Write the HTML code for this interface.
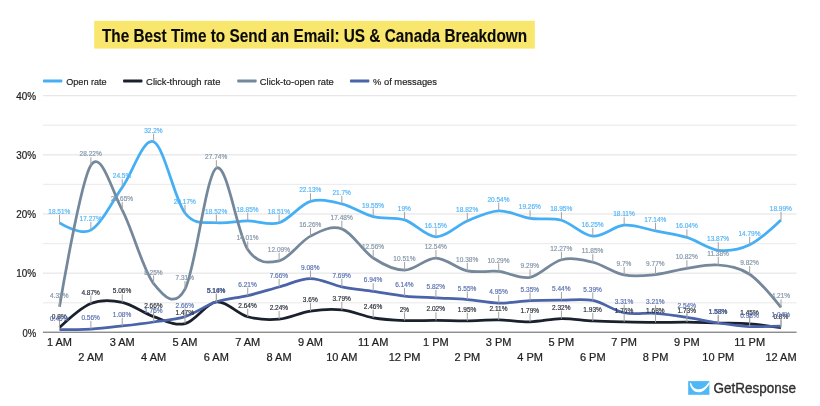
<!DOCTYPE html>
<html><head><meta charset="utf-8"><title>The Best Time to Send an Email: US &amp; Canada Breakdown</title>
<style>html,body{margin:0;padding:0;background:#fff;}body{width:820px;height:406px;overflow:hidden;}svg{display:block;will-change:transform;}text{font-family:"Liberation Sans",sans-serif;}</style></head><body>
<svg width="820" height="406" viewBox="0 0 820 406">
<rect x="0" y="0" width="820" height="406" fill="#ffffff"/>
<rect x="94.2" y="20.8" width="440.6" height="27.8" fill="#f9e76d"/>
<text x="101.9" y="41.7" font-size="17.7" font-weight="bold" fill="#0a0a0a" stroke="#0a0a0a" stroke-width="0.12" textLength="425.2" lengthAdjust="spacingAndGlyphs">The Best Time to Send an Email: US &amp; Canada Breakdown</text>
<rect x="43.0" y="79.6" width="19.3" height="2.8" rx="0.6" fill="#45aff6"/>
<text x="66.2" y="84.7" font-size="9.7" fill="#1e1e1e" stroke="#1e1e1e" stroke-width="0.18" textLength="40.5" lengthAdjust="spacingAndGlyphs">Open rate</text>
<rect x="123.1" y="79.6" width="19.3" height="2.8" rx="0.6" fill="#1a212c"/>
<text x="146.1" y="84.7" font-size="9.7" fill="#1e1e1e" stroke="#1e1e1e" stroke-width="0.18" textLength="74.3" lengthAdjust="spacingAndGlyphs">Click-through rate</text>
<rect x="237.3" y="79.6" width="19.3" height="2.8" rx="0.6" fill="#75889b"/>
<text x="259.8" y="84.7" font-size="9.7" fill="#1e1e1e" stroke="#1e1e1e" stroke-width="0.18" textLength="74.0" lengthAdjust="spacingAndGlyphs">Click-to-open rate</text>
<rect x="350.0" y="79.6" width="19.3" height="2.8" rx="0.6" fill="#4a63a9"/>
<text x="373.0" y="84.7" font-size="9.7" fill="#1e1e1e" stroke="#1e1e1e" stroke-width="0.18" textLength="64.0" lengthAdjust="spacingAndGlyphs">% of messages</text>
<rect x="43.0" y="302.11" width="753.6" height="1.3" fill="#ededed"/>
<rect x="43.0" y="272.52" width="753.6" height="1.3" fill="#e8e8e8"/>
<rect x="43.0" y="242.93" width="753.6" height="1.3" fill="#ededed"/>
<rect x="43.0" y="213.34" width="753.6" height="1.3" fill="#e8e8e8"/>
<rect x="43.0" y="183.75" width="753.6" height="1.3" fill="#ededed"/>
<rect x="43.0" y="154.16" width="753.6" height="1.3" fill="#e8e8e8"/>
<rect x="43.0" y="124.57" width="753.6" height="1.3" fill="#ededed"/>
<rect x="43.0" y="94.98" width="753.6" height="1.3" fill="#e8e8e8"/>
<text x="22.4" y="336.5" font-size="10.8" fill="#1e1e1e" stroke="#1e1e1e" stroke-width="0.22" textLength="13.7" lengthAdjust="spacingAndGlyphs">0%</text>
<text x="16.3" y="277.3" font-size="10.8" fill="#1e1e1e" stroke="#1e1e1e" stroke-width="0.22" textLength="19.8" lengthAdjust="spacingAndGlyphs">10%</text>
<text x="16.3" y="218.1" font-size="10.8" fill="#1e1e1e" stroke="#1e1e1e" stroke-width="0.22" textLength="19.8" lengthAdjust="spacingAndGlyphs">20%</text>
<text x="16.3" y="158.9" font-size="10.8" fill="#1e1e1e" stroke="#1e1e1e" stroke-width="0.22" textLength="19.8" lengthAdjust="spacingAndGlyphs">30%</text>
<text x="16.3" y="99.7" font-size="10.8" fill="#1e1e1e" stroke="#1e1e1e" stroke-width="0.22" textLength="19.8" lengthAdjust="spacingAndGlyphs">40%</text>
<path d="M59.50,222.81C59.50,222.81 80.41,236.05 90.87,230.15C101.33,224.24 111.78,202.08 122.24,187.36C132.70,172.63 143.15,137.52 153.61,141.79C164.07,146.06 174.52,199.49 184.98,212.98C195.44,226.48 205.89,221.45 216.35,222.75C226.81,224.05 237.26,220.79 247.72,220.80C258.18,220.81 268.63,226.04 279.09,222.81C289.55,219.57 300.00,204.53 310.46,201.38C320.92,198.24 331.37,201.38 341.83,203.93C352.29,206.47 362.74,213.99 373.20,216.65C383.66,219.32 394.11,216.55 404.57,219.91C415.03,223.26 425.48,236.60 435.94,236.77C446.40,236.95 456.85,225.30 467.31,220.97C477.77,216.64 488.22,211.23 498.68,210.79C509.14,210.36 519.59,216.80 530.05,218.37C540.51,219.94 550.96,217.24 561.42,220.20C571.88,223.17 582.33,235.35 592.79,236.18C603.25,237.01 613.70,226.05 624.16,225.18C634.62,224.30 645.07,228.87 655.53,230.92C665.99,232.96 676.44,234.20 686.90,237.43C697.36,240.65 707.81,249.03 718.27,250.27C728.73,251.50 739.18,249.87 749.64,244.82C760.10,239.77 781.01,219.97 781.01,219.97" fill="none" stroke="#45aff6" stroke-width="2.75" stroke-linecap="butt" stroke-linejoin="round"/>
<path d="M59.50,327.62C59.50,327.62 80.41,307.73 90.87,303.53C101.33,299.33 111.78,300.23 122.24,302.40C132.70,304.58 143.15,313.07 153.61,316.61C164.07,320.15 174.52,326.10 184.98,323.65C195.44,321.20 205.89,303.09 216.35,301.93C226.81,300.78 237.26,313.87 247.72,316.73C258.18,319.59 268.63,320.04 279.09,319.09C289.55,318.15 300.00,312.57 310.46,311.05C320.92,309.52 331.37,308.80 341.83,309.92C352.29,311.05 362.74,316.03 373.20,317.79C383.66,319.56 394.11,320.08 404.57,320.51C415.03,320.95 425.48,320.35 435.94,320.40C446.40,320.44 456.85,320.90 467.31,320.81C477.77,320.72 488.22,319.71 498.68,319.86C509.14,320.02 519.59,321.96 530.05,321.76C540.51,321.55 550.96,318.76 561.42,318.62C571.88,318.48 582.33,320.38 592.79,320.93C603.25,321.48 613.70,321.69 624.16,321.93C634.62,322.18 645.07,322.38 655.53,322.41C665.99,322.44 676.44,322.01 686.90,322.11C697.36,322.21 707.81,322.72 718.27,323.00C728.73,323.28 739.18,323.00 749.64,323.77C760.10,324.54 781.01,327.62 781.01,327.62" fill="none" stroke="#1a212c" stroke-width="2.75" stroke-linecap="butt" stroke-linejoin="round"/>
<path d="M59.50,306.78C59.50,306.78 80.41,181.45 90.87,165.34C101.33,149.24 111.78,190.45 122.24,210.14C132.70,229.84 143.15,270.37 153.61,283.53C164.07,296.68 174.52,308.31 184.98,289.09C195.44,269.87 205.89,174.79 216.35,168.18C226.81,161.58 237.26,234.00 247.72,249.44C258.18,264.87 268.63,263.02 279.09,260.80C289.55,258.58 300.00,241.44 310.46,236.12C320.92,230.81 331.37,225.25 341.83,228.90C352.29,232.55 362.74,251.15 373.20,258.02C383.66,264.89 394.11,270.13 404.57,270.15C415.03,270.17 425.48,258.01 435.94,258.14C446.40,258.27 456.85,268.70 467.31,270.92C477.77,273.14 488.22,270.38 498.68,271.45C509.14,272.53 519.59,279.32 530.05,277.37C540.51,275.42 550.96,262.26 561.42,259.74C571.88,257.21 582.33,259.69 592.79,262.22C603.25,264.76 613.70,272.89 624.16,274.95C634.62,277.00 645.07,275.64 655.53,274.53C665.99,273.43 676.44,269.91 686.90,268.32C697.36,266.73 707.81,264.02 718.27,265.00C728.73,265.99 739.18,267.16 749.64,274.24C760.10,281.31 781.01,307.44 781.01,307.44" fill="none" stroke="#75889b" stroke-width="2.75" stroke-linecap="butt" stroke-linejoin="round"/>
<path d="M59.50,329.69C59.50,329.69 80.41,329.66 90.87,329.04C101.33,328.41 111.78,327.13 122.24,325.96C132.70,324.78 143.15,323.55 153.61,321.99C164.07,320.44 174.52,319.97 184.98,316.61C195.44,313.24 205.89,305.31 216.35,301.81C226.81,298.31 237.26,298.07 247.72,295.60C258.18,293.13 268.63,289.85 279.09,287.02C289.55,284.19 300.00,278.64 310.46,278.61C320.92,278.58 331.37,284.73 341.83,286.84C352.29,288.95 362.74,289.75 373.20,291.28C383.66,292.81 394.11,294.91 404.57,296.01C415.03,297.12 425.48,297.33 435.94,297.91C446.40,298.49 456.85,298.65 467.31,299.51C477.77,300.36 488.22,302.86 498.68,303.06C509.14,303.25 519.59,301.17 530.05,300.69C540.51,300.21 550.96,300.20 561.42,300.16C571.88,300.12 582.33,298.35 592.79,300.45C603.25,302.55 613.70,310.61 624.16,312.76C634.62,314.91 645.07,312.59 655.53,313.35C665.99,314.11 676.44,315.71 686.90,317.32C697.36,318.93 707.81,321.46 718.27,323.00C728.73,324.54 739.18,326.02 749.64,326.55C760.10,327.08 781.01,326.20 781.01,326.20" fill="none" stroke="#4a63a9" stroke-width="2.75" stroke-linecap="butt" stroke-linejoin="round"/>
<rect x="59.00" y="214.71" width="1" height="8.1" fill="#a2a2a2"/>
<text transform="translate(59.30,213.86) scale(0.947,1)" font-size="6.9" text-anchor="middle" fill="#55b6f7" stroke="#55b6f7" stroke-width="0.18">18.51%</text>
<rect x="90.37" y="222.05" width="1" height="8.1" fill="#a2a2a2"/>
<text transform="translate(90.67,221.20) scale(0.947,1)" font-size="6.9" text-anchor="middle" fill="#55b6f7" stroke="#55b6f7" stroke-width="0.18">17.27%</text>
<rect x="121.74" y="179.26" width="1" height="8.1" fill="#a2a2a2"/>
<text transform="translate(122.04,178.41) scale(0.947,1)" font-size="6.9" text-anchor="middle" fill="#55b6f7" stroke="#55b6f7" stroke-width="0.18">24.5%</text>
<rect x="153.11" y="133.69" width="1" height="8.1" fill="#a2a2a2"/>
<text transform="translate(153.41,132.84) scale(0.947,1)" font-size="6.9" text-anchor="middle" fill="#55b6f7" stroke="#55b6f7" stroke-width="0.18">32.2%</text>
<rect x="184.48" y="204.88" width="1" height="8.1" fill="#a2a2a2"/>
<text transform="translate(184.78,204.03) scale(0.947,1)" font-size="6.9" text-anchor="middle" fill="#55b6f7" stroke="#55b6f7" stroke-width="0.18">20.17%</text>
<rect x="215.85" y="214.65" width="1" height="8.1" fill="#a2a2a2"/>
<text transform="translate(216.15,213.80) scale(0.947,1)" font-size="6.9" text-anchor="middle" fill="#55b6f7" stroke="#55b6f7" stroke-width="0.18">18.52%</text>
<rect x="247.22" y="212.70" width="1" height="8.1" fill="#a2a2a2"/>
<text transform="translate(247.52,211.85) scale(0.947,1)" font-size="6.9" text-anchor="middle" fill="#55b6f7" stroke="#55b6f7" stroke-width="0.18">18.85%</text>
<rect x="278.59" y="214.71" width="1" height="8.1" fill="#a2a2a2"/>
<text transform="translate(278.89,213.86) scale(0.947,1)" font-size="6.9" text-anchor="middle" fill="#55b6f7" stroke="#55b6f7" stroke-width="0.18">18.51%</text>
<rect x="309.96" y="193.28" width="1" height="8.1" fill="#a2a2a2"/>
<text transform="translate(310.26,192.43) scale(0.947,1)" font-size="6.9" text-anchor="middle" fill="#55b6f7" stroke="#55b6f7" stroke-width="0.18">22.13%</text>
<rect x="341.33" y="195.83" width="1" height="8.1" fill="#a2a2a2"/>
<text transform="translate(341.63,194.98) scale(0.947,1)" font-size="6.9" text-anchor="middle" fill="#55b6f7" stroke="#55b6f7" stroke-width="0.18">21.7%</text>
<rect x="372.70" y="208.55" width="1" height="8.1" fill="#a2a2a2"/>
<text transform="translate(373.00,207.70) scale(0.947,1)" font-size="6.9" text-anchor="middle" fill="#55b6f7" stroke="#55b6f7" stroke-width="0.18">19.55%</text>
<rect x="404.07" y="211.81" width="1" height="8.1" fill="#a2a2a2"/>
<text transform="translate(404.37,210.96) scale(0.947,1)" font-size="6.9" text-anchor="middle" fill="#55b6f7" stroke="#55b6f7" stroke-width="0.18">19%</text>
<rect x="435.44" y="228.67" width="1" height="8.1" fill="#a2a2a2"/>
<text transform="translate(435.74,227.82) scale(0.947,1)" font-size="6.9" text-anchor="middle" fill="#55b6f7" stroke="#55b6f7" stroke-width="0.18">16.15%</text>
<rect x="466.81" y="212.87" width="1" height="8.1" fill="#a2a2a2"/>
<text transform="translate(467.11,212.02) scale(0.947,1)" font-size="6.9" text-anchor="middle" fill="#55b6f7" stroke="#55b6f7" stroke-width="0.18">18.82%</text>
<rect x="498.18" y="202.69" width="1" height="8.1" fill="#a2a2a2"/>
<text transform="translate(498.48,201.84) scale(0.947,1)" font-size="6.9" text-anchor="middle" fill="#55b6f7" stroke="#55b6f7" stroke-width="0.18">20.54%</text>
<rect x="529.55" y="210.27" width="1" height="8.1" fill="#a2a2a2"/>
<text transform="translate(529.85,209.42) scale(0.947,1)" font-size="6.9" text-anchor="middle" fill="#55b6f7" stroke="#55b6f7" stroke-width="0.18">19.26%</text>
<rect x="560.92" y="212.10" width="1" height="8.1" fill="#a2a2a2"/>
<text transform="translate(561.22,211.25) scale(0.947,1)" font-size="6.9" text-anchor="middle" fill="#55b6f7" stroke="#55b6f7" stroke-width="0.18">18.95%</text>
<rect x="592.29" y="228.08" width="1" height="8.1" fill="#a2a2a2"/>
<text transform="translate(592.59,227.23) scale(0.947,1)" font-size="6.9" text-anchor="middle" fill="#55b6f7" stroke="#55b6f7" stroke-width="0.18">16.25%</text>
<rect x="623.66" y="217.08" width="1" height="8.1" fill="#a2a2a2"/>
<text transform="translate(623.96,216.23) scale(0.947,1)" font-size="6.9" text-anchor="middle" fill="#55b6f7" stroke="#55b6f7" stroke-width="0.18">18.11%</text>
<rect x="655.03" y="222.82" width="1" height="8.1" fill="#a2a2a2"/>
<text transform="translate(655.33,221.97) scale(0.947,1)" font-size="6.9" text-anchor="middle" fill="#55b6f7" stroke="#55b6f7" stroke-width="0.18">17.14%</text>
<rect x="686.40" y="229.33" width="1" height="8.1" fill="#a2a2a2"/>
<text transform="translate(686.70,228.48) scale(0.947,1)" font-size="6.9" text-anchor="middle" fill="#55b6f7" stroke="#55b6f7" stroke-width="0.18">16.04%</text>
<rect x="717.77" y="242.17" width="1" height="8.1" fill="#a2a2a2"/>
<text transform="translate(718.07,241.32) scale(0.947,1)" font-size="6.9" text-anchor="middle" fill="#55b6f7" stroke="#55b6f7" stroke-width="0.18">13.87%</text>
<rect x="749.14" y="236.72" width="1" height="8.1" fill="#a2a2a2"/>
<text transform="translate(749.44,235.87) scale(0.947,1)" font-size="6.9" text-anchor="middle" fill="#55b6f7" stroke="#55b6f7" stroke-width="0.18">14.79%</text>
<rect x="780.51" y="211.87" width="1" height="8.1" fill="#a2a2a2"/>
<text transform="translate(780.81,211.02) scale(0.947,1)" font-size="6.9" text-anchor="middle" fill="#55b6f7" stroke="#55b6f7" stroke-width="0.18">18.99%</text>
<rect x="59.00" y="319.52" width="1" height="8.1" fill="#a2a2a2"/>
<text transform="translate(59.30,318.67) scale(0.947,1)" font-size="6.9" text-anchor="middle" fill="#2a2f38" stroke="#2a2f38" stroke-width="0.18">0.8%</text>
<rect x="90.37" y="295.43" width="1" height="8.1" fill="#a2a2a2"/>
<text transform="translate(90.67,294.58) scale(0.947,1)" font-size="6.9" text-anchor="middle" fill="#2a2f38" stroke="#2a2f38" stroke-width="0.18">4.87%</text>
<rect x="121.74" y="294.30" width="1" height="8.1" fill="#a2a2a2"/>
<text transform="translate(122.04,293.45) scale(0.947,1)" font-size="6.9" text-anchor="middle" fill="#2a2f38" stroke="#2a2f38" stroke-width="0.18">5.06%</text>
<rect x="153.11" y="308.51" width="1" height="8.1" fill="#a2a2a2"/>
<text transform="translate(153.41,307.66) scale(0.947,1)" font-size="6.9" text-anchor="middle" fill="#2a2f38" stroke="#2a2f38" stroke-width="0.18">2.66%</text>
<rect x="184.48" y="315.55" width="1" height="8.1" fill="#a2a2a2"/>
<text transform="translate(184.78,314.70) scale(0.947,1)" font-size="6.9" text-anchor="middle" fill="#2a2f38" stroke="#2a2f38" stroke-width="0.18">1.47%</text>
<rect x="215.85" y="293.83" width="1" height="8.1" fill="#a2a2a2"/>
<text transform="translate(216.15,292.98) scale(0.947,1)" font-size="6.9" text-anchor="middle" fill="#2a2f38" stroke="#2a2f38" stroke-width="0.18">5.14%</text>
<rect x="247.22" y="308.63" width="1" height="8.1" fill="#a2a2a2"/>
<text transform="translate(247.52,307.78) scale(0.947,1)" font-size="6.9" text-anchor="middle" fill="#2a2f38" stroke="#2a2f38" stroke-width="0.18">2.64%</text>
<rect x="278.59" y="310.99" width="1" height="8.1" fill="#a2a2a2"/>
<text transform="translate(278.89,310.14) scale(0.947,1)" font-size="6.9" text-anchor="middle" fill="#2a2f38" stroke="#2a2f38" stroke-width="0.18">2.24%</text>
<rect x="309.96" y="302.95" width="1" height="8.1" fill="#a2a2a2"/>
<text transform="translate(310.26,302.10) scale(0.947,1)" font-size="6.9" text-anchor="middle" fill="#2a2f38" stroke="#2a2f38" stroke-width="0.18">3.6%</text>
<rect x="341.33" y="301.82" width="1" height="8.1" fill="#a2a2a2"/>
<text transform="translate(341.63,300.97) scale(0.947,1)" font-size="6.9" text-anchor="middle" fill="#2a2f38" stroke="#2a2f38" stroke-width="0.18">3.79%</text>
<rect x="372.70" y="309.69" width="1" height="8.1" fill="#a2a2a2"/>
<text transform="translate(373.00,308.84) scale(0.947,1)" font-size="6.9" text-anchor="middle" fill="#2a2f38" stroke="#2a2f38" stroke-width="0.18">2.46%</text>
<rect x="404.07" y="312.41" width="1" height="8.1" fill="#a2a2a2"/>
<text transform="translate(404.37,311.56) scale(0.947,1)" font-size="6.9" text-anchor="middle" fill="#2a2f38" stroke="#2a2f38" stroke-width="0.18">2%</text>
<rect x="435.44" y="312.30" width="1" height="8.1" fill="#a2a2a2"/>
<text transform="translate(435.74,311.45) scale(0.947,1)" font-size="6.9" text-anchor="middle" fill="#2a2f38" stroke="#2a2f38" stroke-width="0.18">2.02%</text>
<rect x="466.81" y="312.71" width="1" height="8.1" fill="#a2a2a2"/>
<text transform="translate(467.11,311.86) scale(0.947,1)" font-size="6.9" text-anchor="middle" fill="#2a2f38" stroke="#2a2f38" stroke-width="0.18">1.95%</text>
<rect x="498.18" y="311.76" width="1" height="8.1" fill="#a2a2a2"/>
<text transform="translate(498.48,310.91) scale(0.947,1)" font-size="6.9" text-anchor="middle" fill="#2a2f38" stroke="#2a2f38" stroke-width="0.18">2.11%</text>
<rect x="529.55" y="313.66" width="1" height="8.1" fill="#a2a2a2"/>
<text transform="translate(529.85,312.81) scale(0.947,1)" font-size="6.9" text-anchor="middle" fill="#2a2f38" stroke="#2a2f38" stroke-width="0.18">1.79%</text>
<rect x="560.92" y="310.52" width="1" height="8.1" fill="#a2a2a2"/>
<text transform="translate(561.22,309.67) scale(0.947,1)" font-size="6.9" text-anchor="middle" fill="#2a2f38" stroke="#2a2f38" stroke-width="0.18">2.32%</text>
<rect x="592.29" y="312.83" width="1" height="8.1" fill="#a2a2a2"/>
<text transform="translate(592.59,311.98) scale(0.947,1)" font-size="6.9" text-anchor="middle" fill="#2a2f38" stroke="#2a2f38" stroke-width="0.18">1.93%</text>
<rect x="623.66" y="313.83" width="1" height="8.1" fill="#a2a2a2"/>
<text transform="translate(623.96,312.98) scale(0.947,1)" font-size="6.9" text-anchor="middle" fill="#2a2f38" stroke="#2a2f38" stroke-width="0.18">1.76%</text>
<rect x="655.03" y="314.31" width="1" height="8.1" fill="#a2a2a2"/>
<text transform="translate(655.33,313.46) scale(0.947,1)" font-size="6.9" text-anchor="middle" fill="#2a2f38" stroke="#2a2f38" stroke-width="0.18">1.68%</text>
<rect x="686.40" y="314.01" width="1" height="8.1" fill="#a2a2a2"/>
<text transform="translate(686.70,313.16) scale(0.947,1)" font-size="6.9" text-anchor="middle" fill="#2a2f38" stroke="#2a2f38" stroke-width="0.18">1.73%</text>
<rect x="717.77" y="314.90" width="1" height="8.1" fill="#a2a2a2"/>
<text transform="translate(718.07,314.05) scale(0.947,1)" font-size="6.9" text-anchor="middle" fill="#2a2f38" stroke="#2a2f38" stroke-width="0.18">1.58%</text>
<rect x="749.14" y="315.67" width="1" height="8.1" fill="#a2a2a2"/>
<text transform="translate(749.44,314.82) scale(0.947,1)" font-size="6.9" text-anchor="middle" fill="#2a2f38" stroke="#2a2f38" stroke-width="0.18">1.45%</text>
<rect x="780.51" y="319.52" width="1" height="8.1" fill="#a2a2a2"/>
<text transform="translate(780.81,318.67) scale(0.947,1)" font-size="6.9" text-anchor="middle" fill="#2a2f38" stroke="#2a2f38" stroke-width="0.18">0.8%</text>
<rect x="59.00" y="298.68" width="1" height="8.1" fill="#a2a2a2"/>
<text transform="translate(59.30,297.83) scale(0.947,1)" font-size="6.9" text-anchor="middle" fill="#8496a8" stroke="#8496a8" stroke-width="0.18">4.32%</text>
<rect x="90.37" y="157.24" width="1" height="8.1" fill="#a2a2a2"/>
<text transform="translate(90.67,156.39) scale(0.947,1)" font-size="6.9" text-anchor="middle" fill="#8496a8" stroke="#8496a8" stroke-width="0.18">28.22%</text>
<rect x="121.74" y="202.04" width="1" height="8.1" fill="#a2a2a2"/>
<text transform="translate(122.04,201.19) scale(0.947,1)" font-size="6.9" text-anchor="middle" fill="#8496a8" stroke="#8496a8" stroke-width="0.18">20.65%</text>
<rect x="153.11" y="275.43" width="1" height="8.1" fill="#a2a2a2"/>
<text transform="translate(153.41,274.58) scale(0.947,1)" font-size="6.9" text-anchor="middle" fill="#8496a8" stroke="#8496a8" stroke-width="0.18">8.25%</text>
<rect x="184.48" y="280.99" width="1" height="8.1" fill="#a2a2a2"/>
<text transform="translate(184.78,280.14) scale(0.947,1)" font-size="6.9" text-anchor="middle" fill="#8496a8" stroke="#8496a8" stroke-width="0.18">7.31%</text>
<rect x="215.85" y="160.08" width="1" height="8.1" fill="#a2a2a2"/>
<text transform="translate(216.15,159.23) scale(0.947,1)" font-size="6.9" text-anchor="middle" fill="#8496a8" stroke="#8496a8" stroke-width="0.18">27.74%</text>
<rect x="247.22" y="241.34" width="1" height="8.1" fill="#a2a2a2"/>
<text transform="translate(247.52,240.49) scale(0.947,1)" font-size="6.9" text-anchor="middle" fill="#8496a8" stroke="#8496a8" stroke-width="0.18">14.01%</text>
<rect x="278.59" y="252.70" width="1" height="8.1" fill="#a2a2a2"/>
<text transform="translate(278.89,251.85) scale(0.947,1)" font-size="6.9" text-anchor="middle" fill="#8496a8" stroke="#8496a8" stroke-width="0.18">12.09%</text>
<rect x="309.96" y="228.02" width="1" height="8.1" fill="#a2a2a2"/>
<text transform="translate(310.26,227.17) scale(0.947,1)" font-size="6.9" text-anchor="middle" fill="#8496a8" stroke="#8496a8" stroke-width="0.18">16.26%</text>
<rect x="341.33" y="220.80" width="1" height="8.1" fill="#a2a2a2"/>
<text transform="translate(341.63,219.95) scale(0.947,1)" font-size="6.9" text-anchor="middle" fill="#8496a8" stroke="#8496a8" stroke-width="0.18">17.48%</text>
<rect x="372.70" y="249.92" width="1" height="8.1" fill="#a2a2a2"/>
<text transform="translate(373.00,249.07) scale(0.947,1)" font-size="6.9" text-anchor="middle" fill="#8496a8" stroke="#8496a8" stroke-width="0.18">12.56%</text>
<rect x="404.07" y="262.05" width="1" height="8.1" fill="#a2a2a2"/>
<text transform="translate(404.37,261.20) scale(0.947,1)" font-size="6.9" text-anchor="middle" fill="#8496a8" stroke="#8496a8" stroke-width="0.18">10.51%</text>
<rect x="435.44" y="250.04" width="1" height="8.1" fill="#a2a2a2"/>
<text transform="translate(435.74,249.19) scale(0.947,1)" font-size="6.9" text-anchor="middle" fill="#8496a8" stroke="#8496a8" stroke-width="0.18">12.54%</text>
<rect x="466.81" y="262.82" width="1" height="8.1" fill="#a2a2a2"/>
<text transform="translate(467.11,261.97) scale(0.947,1)" font-size="6.9" text-anchor="middle" fill="#8496a8" stroke="#8496a8" stroke-width="0.18">10.38%</text>
<rect x="498.18" y="263.35" width="1" height="8.1" fill="#a2a2a2"/>
<text transform="translate(498.48,262.50) scale(0.947,1)" font-size="6.9" text-anchor="middle" fill="#8496a8" stroke="#8496a8" stroke-width="0.18">10.29%</text>
<rect x="529.55" y="269.27" width="1" height="8.1" fill="#a2a2a2"/>
<text transform="translate(529.85,268.42) scale(0.947,1)" font-size="6.9" text-anchor="middle" fill="#8496a8" stroke="#8496a8" stroke-width="0.18">9.29%</text>
<rect x="560.92" y="251.64" width="1" height="8.1" fill="#a2a2a2"/>
<text transform="translate(561.22,250.79) scale(0.947,1)" font-size="6.9" text-anchor="middle" fill="#8496a8" stroke="#8496a8" stroke-width="0.18">12.27%</text>
<rect x="592.29" y="254.12" width="1" height="8.1" fill="#a2a2a2"/>
<text transform="translate(592.59,253.27) scale(0.947,1)" font-size="6.9" text-anchor="middle" fill="#8496a8" stroke="#8496a8" stroke-width="0.18">11.85%</text>
<rect x="623.66" y="266.85" width="1" height="8.1" fill="#a2a2a2"/>
<text transform="translate(623.96,266.00) scale(0.947,1)" font-size="6.9" text-anchor="middle" fill="#8496a8" stroke="#8496a8" stroke-width="0.18">9.7%</text>
<rect x="655.03" y="266.43" width="1" height="8.1" fill="#a2a2a2"/>
<text transform="translate(655.33,265.58) scale(0.947,1)" font-size="6.9" text-anchor="middle" fill="#8496a8" stroke="#8496a8" stroke-width="0.18">9.77%</text>
<rect x="686.40" y="260.22" width="1" height="8.1" fill="#a2a2a2"/>
<text transform="translate(686.70,259.37) scale(0.947,1)" font-size="6.9" text-anchor="middle" fill="#8496a8" stroke="#8496a8" stroke-width="0.18">10.82%</text>
<rect x="717.77" y="256.90" width="1" height="8.1" fill="#a2a2a2"/>
<text transform="translate(718.07,256.05) scale(0.947,1)" font-size="6.9" text-anchor="middle" fill="#8496a8" stroke="#8496a8" stroke-width="0.18">11.38%</text>
<rect x="749.14" y="266.14" width="1" height="8.1" fill="#a2a2a2"/>
<text transform="translate(749.44,265.29) scale(0.947,1)" font-size="6.9" text-anchor="middle" fill="#8496a8" stroke="#8496a8" stroke-width="0.18">9.82%</text>
<rect x="780.51" y="299.34" width="1" height="8.1" fill="#a2a2a2"/>
<text transform="translate(780.81,298.49) scale(0.947,1)" font-size="6.9" text-anchor="middle" fill="#8496a8" stroke="#8496a8" stroke-width="0.18">4.21%</text>
<rect x="59.00" y="321.59" width="1" height="8.1" fill="#a2a2a2"/>
<text transform="translate(59.30,320.74) scale(0.947,1)" font-size="6.9" text-anchor="middle" fill="#5a72b2" stroke="#5a72b2" stroke-width="0.18">0.45%</text>
<rect x="90.37" y="320.94" width="1" height="8.1" fill="#a2a2a2"/>
<text transform="translate(90.67,320.09) scale(0.947,1)" font-size="6.9" text-anchor="middle" fill="#5a72b2" stroke="#5a72b2" stroke-width="0.18">0.56%</text>
<rect x="121.74" y="317.86" width="1" height="8.1" fill="#a2a2a2"/>
<text transform="translate(122.04,317.01) scale(0.947,1)" font-size="6.9" text-anchor="middle" fill="#5a72b2" stroke="#5a72b2" stroke-width="0.18">1.08%</text>
<rect x="153.11" y="313.89" width="1" height="8.1" fill="#a2a2a2"/>
<text transform="translate(153.41,313.04) scale(0.947,1)" font-size="6.9" text-anchor="middle" fill="#5a72b2" stroke="#5a72b2" stroke-width="0.18">1.75%</text>
<rect x="184.48" y="308.51" width="1" height="8.1" fill="#a2a2a2"/>
<text transform="translate(184.78,307.66) scale(0.947,1)" font-size="6.9" text-anchor="middle" fill="#5a72b2" stroke="#5a72b2" stroke-width="0.18">2.66%</text>
<rect x="215.85" y="293.71" width="1" height="8.1" fill="#a2a2a2"/>
<text transform="translate(216.15,292.86) scale(0.947,1)" font-size="6.9" text-anchor="middle" fill="#5a72b2" stroke="#5a72b2" stroke-width="0.18">5.16%</text>
<rect x="247.22" y="287.50" width="1" height="8.1" fill="#a2a2a2"/>
<text transform="translate(247.52,286.65) scale(0.947,1)" font-size="6.9" text-anchor="middle" fill="#5a72b2" stroke="#5a72b2" stroke-width="0.18">6.21%</text>
<rect x="278.59" y="278.92" width="1" height="8.1" fill="#a2a2a2"/>
<text transform="translate(278.89,278.07) scale(0.947,1)" font-size="6.9" text-anchor="middle" fill="#5a72b2" stroke="#5a72b2" stroke-width="0.18">7.66%</text>
<rect x="309.96" y="270.51" width="1" height="8.1" fill="#a2a2a2"/>
<text transform="translate(310.26,269.66) scale(0.947,1)" font-size="6.9" text-anchor="middle" fill="#5a72b2" stroke="#5a72b2" stroke-width="0.18">9.08%</text>
<rect x="341.33" y="278.74" width="1" height="8.1" fill="#a2a2a2"/>
<text transform="translate(341.63,277.89) scale(0.947,1)" font-size="6.9" text-anchor="middle" fill="#5a72b2" stroke="#5a72b2" stroke-width="0.18">7.69%</text>
<rect x="372.70" y="283.18" width="1" height="8.1" fill="#a2a2a2"/>
<text transform="translate(373.00,282.33) scale(0.947,1)" font-size="6.9" text-anchor="middle" fill="#5a72b2" stroke="#5a72b2" stroke-width="0.18">6.94%</text>
<rect x="404.07" y="287.91" width="1" height="8.1" fill="#a2a2a2"/>
<text transform="translate(404.37,287.06) scale(0.947,1)" font-size="6.9" text-anchor="middle" fill="#5a72b2" stroke="#5a72b2" stroke-width="0.18">6.14%</text>
<rect x="435.44" y="289.81" width="1" height="8.1" fill="#a2a2a2"/>
<text transform="translate(435.74,288.96) scale(0.947,1)" font-size="6.9" text-anchor="middle" fill="#5a72b2" stroke="#5a72b2" stroke-width="0.18">5.82%</text>
<rect x="466.81" y="291.41" width="1" height="8.1" fill="#a2a2a2"/>
<text transform="translate(467.11,290.56) scale(0.947,1)" font-size="6.9" text-anchor="middle" fill="#5a72b2" stroke="#5a72b2" stroke-width="0.18">5.55%</text>
<rect x="498.18" y="294.96" width="1" height="8.1" fill="#a2a2a2"/>
<text transform="translate(498.48,294.11) scale(0.947,1)" font-size="6.9" text-anchor="middle" fill="#5a72b2" stroke="#5a72b2" stroke-width="0.18">4.95%</text>
<rect x="529.55" y="292.59" width="1" height="8.1" fill="#a2a2a2"/>
<text transform="translate(529.85,291.74) scale(0.947,1)" font-size="6.9" text-anchor="middle" fill="#5a72b2" stroke="#5a72b2" stroke-width="0.18">5.35%</text>
<rect x="560.92" y="292.06" width="1" height="8.1" fill="#a2a2a2"/>
<text transform="translate(561.22,291.21) scale(0.947,1)" font-size="6.9" text-anchor="middle" fill="#5a72b2" stroke="#5a72b2" stroke-width="0.18">5.44%</text>
<rect x="592.29" y="292.35" width="1" height="8.1" fill="#a2a2a2"/>
<text transform="translate(592.59,291.50) scale(0.947,1)" font-size="6.9" text-anchor="middle" fill="#5a72b2" stroke="#5a72b2" stroke-width="0.18">5.39%</text>
<rect x="623.66" y="304.66" width="1" height="8.1" fill="#a2a2a2"/>
<text transform="translate(623.96,303.81) scale(0.947,1)" font-size="6.9" text-anchor="middle" fill="#5a72b2" stroke="#5a72b2" stroke-width="0.18">3.31%</text>
<rect x="655.03" y="305.25" width="1" height="8.1" fill="#a2a2a2"/>
<text transform="translate(655.33,304.40) scale(0.947,1)" font-size="6.9" text-anchor="middle" fill="#5a72b2" stroke="#5a72b2" stroke-width="0.18">3.21%</text>
<rect x="686.40" y="309.22" width="1" height="8.1" fill="#a2a2a2"/>
<text transform="translate(686.70,308.37) scale(0.947,1)" font-size="6.9" text-anchor="middle" fill="#5a72b2" stroke="#5a72b2" stroke-width="0.18">2.54%</text>
<rect x="717.77" y="314.90" width="1" height="8.1" fill="#a2a2a2"/>
<text transform="translate(718.07,314.05) scale(0.947,1)" font-size="6.9" text-anchor="middle" fill="#5a72b2" stroke="#5a72b2" stroke-width="0.18">1.58%</text>
<rect x="749.14" y="318.45" width="1" height="8.1" fill="#a2a2a2"/>
<text transform="translate(749.44,317.60) scale(0.947,1)" font-size="6.9" text-anchor="middle" fill="#5a72b2" stroke="#5a72b2" stroke-width="0.18">0.98%</text>
<rect x="780.51" y="318.10" width="1" height="8.1" fill="#a2a2a2"/>
<text transform="translate(780.81,317.25) scale(0.947,1)" font-size="6.9" text-anchor="middle" fill="#5a72b2" stroke="#5a72b2" stroke-width="0.18">1.04%</text>
<rect x="43.0" y="331.6" width="753.6" height="1.3" fill="#828282"/>
<text x="59.50" y="346.3" font-size="11" text-anchor="middle" fill="#1e1e1e" stroke="#1e1e1e" stroke-width="0.22">1 AM</text>
<text x="90.87" y="360.7" font-size="11" text-anchor="middle" fill="#1e1e1e" stroke="#1e1e1e" stroke-width="0.22">2 AM</text>
<text x="122.24" y="346.3" font-size="11" text-anchor="middle" fill="#1e1e1e" stroke="#1e1e1e" stroke-width="0.22">3 AM</text>
<text x="153.61" y="360.7" font-size="11" text-anchor="middle" fill="#1e1e1e" stroke="#1e1e1e" stroke-width="0.22">4 AM</text>
<text x="184.98" y="346.3" font-size="11" text-anchor="middle" fill="#1e1e1e" stroke="#1e1e1e" stroke-width="0.22">5 AM</text>
<text x="216.35" y="360.7" font-size="11" text-anchor="middle" fill="#1e1e1e" stroke="#1e1e1e" stroke-width="0.22">6 AM</text>
<text x="247.72" y="346.3" font-size="11" text-anchor="middle" fill="#1e1e1e" stroke="#1e1e1e" stroke-width="0.22">7 AM</text>
<text x="279.09" y="360.7" font-size="11" text-anchor="middle" fill="#1e1e1e" stroke="#1e1e1e" stroke-width="0.22">8 AM</text>
<text x="310.46" y="346.3" font-size="11" text-anchor="middle" fill="#1e1e1e" stroke="#1e1e1e" stroke-width="0.22">9 AM</text>
<text x="341.83" y="360.7" font-size="11" text-anchor="middle" fill="#1e1e1e" stroke="#1e1e1e" stroke-width="0.22">10 AM</text>
<text x="373.20" y="346.3" font-size="11" text-anchor="middle" fill="#1e1e1e" stroke="#1e1e1e" stroke-width="0.22">11 AM</text>
<text x="404.57" y="360.7" font-size="11" text-anchor="middle" fill="#1e1e1e" stroke="#1e1e1e" stroke-width="0.22">12 PM</text>
<text x="435.94" y="346.3" font-size="11" text-anchor="middle" fill="#1e1e1e" stroke="#1e1e1e" stroke-width="0.22">1 PM</text>
<text x="467.31" y="360.7" font-size="11" text-anchor="middle" fill="#1e1e1e" stroke="#1e1e1e" stroke-width="0.22">2 PM</text>
<text x="498.68" y="346.3" font-size="11" text-anchor="middle" fill="#1e1e1e" stroke="#1e1e1e" stroke-width="0.22">3 PM</text>
<text x="530.05" y="360.7" font-size="11" text-anchor="middle" fill="#1e1e1e" stroke="#1e1e1e" stroke-width="0.22">4 PM</text>
<text x="561.42" y="346.3" font-size="11" text-anchor="middle" fill="#1e1e1e" stroke="#1e1e1e" stroke-width="0.22">5 PM</text>
<text x="592.79" y="360.7" font-size="11" text-anchor="middle" fill="#1e1e1e" stroke="#1e1e1e" stroke-width="0.22">6 PM</text>
<text x="624.16" y="346.3" font-size="11" text-anchor="middle" fill="#1e1e1e" stroke="#1e1e1e" stroke-width="0.22">7 PM</text>
<text x="655.53" y="360.7" font-size="11" text-anchor="middle" fill="#1e1e1e" stroke="#1e1e1e" stroke-width="0.22">8 PM</text>
<text x="686.90" y="346.3" font-size="11" text-anchor="middle" fill="#1e1e1e" stroke="#1e1e1e" stroke-width="0.22">9 PM</text>
<text x="718.27" y="360.7" font-size="11" text-anchor="middle" fill="#1e1e1e" stroke="#1e1e1e" stroke-width="0.22">10 PM</text>
<text x="749.64" y="346.3" font-size="11" text-anchor="middle" fill="#1e1e1e" stroke="#1e1e1e" stroke-width="0.22">11 PM</text>
<text x="781.01" y="360.7" font-size="11" text-anchor="middle" fill="#1e1e1e" stroke="#1e1e1e" stroke-width="0.22">12 AM</text>
<g>
<rect x="688.2" y="381.1" width="21.2" height="13.7" fill="#4db7f7"/>
<path d="M691.1,382.9 C692.4,387.6 695.6,389.4 698.8,389.3 C703,389.2 706.5,386 709.4,381.5 L709.4,383.9 C706.5,388.6 703,392.2 698.6,392.3 C694.3,392.4 690.9,389 690.0,384.3 C689.8,383 690.7,382.3 691.1,382.9 Z" fill="#ffffff"/>
<text x="713.6" y="392.7" font-size="14.5" fill="#2f2f2f" stroke="#2f2f2f" stroke-width="0.35" textLength="82.5" lengthAdjust="spacingAndGlyphs">GetResponse</text>
</g>
</svg></body></html>
